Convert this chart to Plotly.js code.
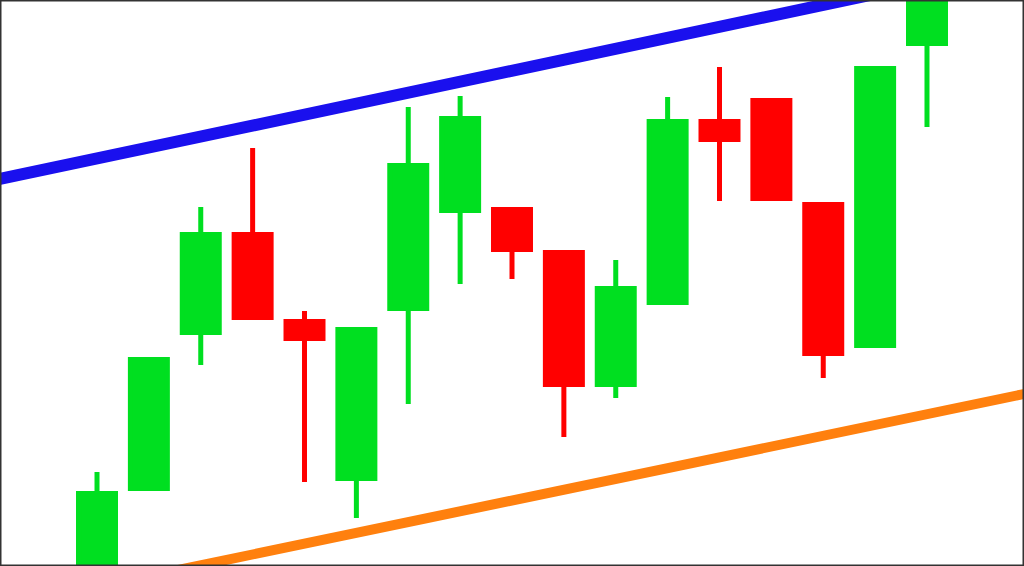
<!DOCTYPE html>
<html>
<head>
<meta charset="utf-8">
<script src="https://cdn.plot.ly/plotly-3.0.1.min.js"></script>
<style>
  html, body { margin: 0; padding: 0; background: #ffffff; }
  #chart { width: 1024px; height: 566px; }
</style>
</head>
<body>
<div id="chart"></div>
<script>
// Candle index (period)
const periods = [0, 1, 2, 3, 4, 5, 6, 7, 8, 9, 10, 11, 12, 13, 14, 15, 16];
const openVals  = [-24, 77.5, 233.5, 331.5, 244.5, 87.5, 257.5, 355.5, 356.5, 313.5, 181.5, 263.5, 444.5, 465.5, 361.5, 220.5, 522.5];
const highVals  = [94, 206.5, 359, 418, 255, 236.5, 459, 470, 356.5, 313.5, 306, 469, 499, 465.5, 361.5, 497.5, 620];
const lowVals   = [-34, 77.5, 201, 248.5, 84, 48, 162, 282, 287, 129, 168, 263.5, 365, 367.5, 188, 220.5, 439];
const closeVals = [72.5, 206.5, 331.5, 248.5, 227.5, 236.5, 400.5, 447.5, 316.5, 181.5, 277.5, 444.5, 426.5, 367.5, 212.5, 497.5, 600];

// Channel trend lines
const trendX = [-2, 18];
const upperLine = [385.6, 605.0];
const lowerLine = [-42.4, 173.4];

const traces = [
  {
    type: 'scatter', mode: 'lines', x: trendX, y: upperLine,
    line: { color: '#1A10EE', width: 12 }, hoverinfo: 'skip', showlegend: false
  },
  {
    type: 'scatter', mode: 'lines', x: trendX, y: lowerLine,
    line: { color: '#FF800E', width: 10 }, hoverinfo: 'skip', showlegend: false
  },
  {
    type: 'candlestick', x: periods,
    open: openVals, high: highVals, low: lowVals, close: closeVals,
    increasing: { line: { color: '#00DF20', width: 5 }, fillcolor: '#00DF20' },
    decreasing: { line: { color: '#FF0000', width: 5 }, fillcolor: '#FF0000' },
    whiskerwidth: 0, showlegend: false
  }
];

const layout = {
  width: 1024, height: 566,
  margin: { l: 0, r: 0, t: 0, b: 0, pad: 0 },
  paper_bgcolor: '#ffffff', plot_bgcolor: '#ffffff',
  boxgap: 0.287,
  boxgroupgap: 0,
  showlegend: false,
  xaxis: { range: [-1.87, 17.87], visible: false, showgrid: false, zeroline: false, rangeslider: { visible: false }, fixedrange: true },
  yaxis: { range: [0, 566], visible: false, showgrid: false, zeroline: false, fixedrange: true },
  shapes: [
    { type: 'rect', xref: 'paper', yref: 'paper', x0: 0, x1: 1, y0: 0, y1: 1,
      line: { color: '#333333', width: 3 }, fillcolor: 'rgba(0,0,0,0)', layer: 'above' }
  ]
};

Plotly.newPlot('chart', traces, layout, { displayModeBar: false, staticPlot: true });
</script>
</body>
</html>
